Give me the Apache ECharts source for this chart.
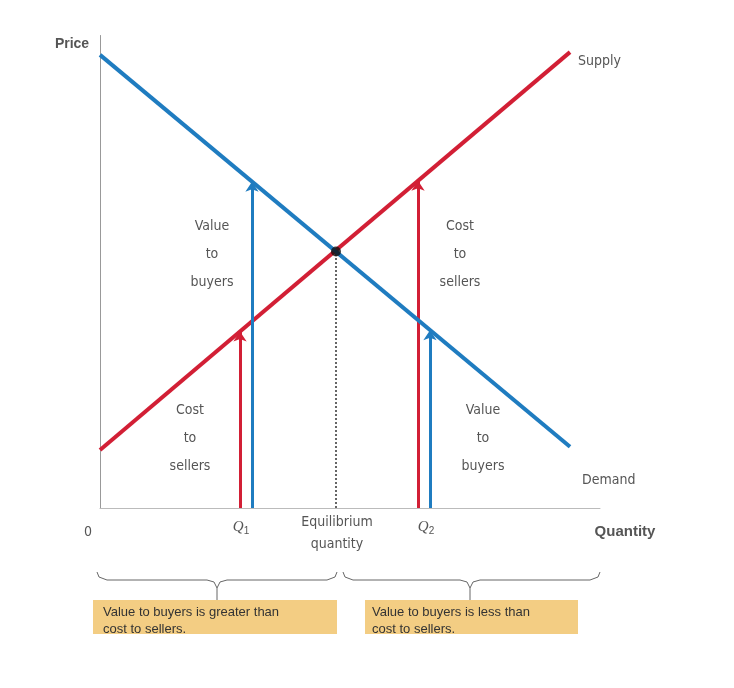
<!DOCTYPE html><html><head><meta charset="utf-8">
<script src="https://cdn.jsdelivr.net/npm/echarts@6/dist/echarts.min.js"></script>
<style>html,body{margin:0;background:#fff}#c{width:734px;height:688px}</style></head><body><div id="c"></div>
<script>
const demandLine=[[0,100.7],[94,13.6]];
const supplyLine=[[0,12.9],[94,101.3]];
const equilibrium=[47.2,57];
const q1Cost=[[28,0],[28,39.2]];
const q1Value=[[30.4,0],[30.4,72.5]];
const q2Cost=[[63.6,0],[63.6,72.7]];
const q2Value=[[66,0],[66,39.5]];
const BLUE='#1f7cc0',RED='#d21f35',TXT='#555';
const ch=echarts.init(document.getElementById('c'));
function brace(x1,x2,cx){const y0=572,y1=580,y2=588;
 return [{type:'polyline',shape:{points:[[x1,y0],[x1+2,y1-3],[x1+10,y1],[cx-10,y1],[cx-3,y1+2],[cx,y2],[cx+3,y1+2],[cx+10,y1],[x2-10,y1],[x2-2,y1-3],[x2,y0]]},style:{stroke:'#666',fill:null,lineWidth:1}},
 {type:'line',shape:{x1:cx,y1:y2,x2:cx,y2:600},style:{stroke:'#666',lineWidth:1}}];}
const t=(x,y,text,extra)=>Object.assign({type:'text',x,y,style:Object.assign({text,fill:TXT,font:'14px "Liberation Sans Narrow", "DejaVu Sans Condensed", sans-serif',align:'center',lineHeight:28},extra||{})});
const arrowLine=(d,c)=>({type:'line',data:[],markLine:{silent:true,symbol:['none','arrow'],symbolSize:10,label:{show:false},lineStyle:{color:c,width:3,type:'solid'},data:[[{coord:d[0]},{coord:d[1]}]]},z:3});
ch.setOption({animation:false,
grid:{left:100,top:35.5,width:500,height:472.5},
xAxis:{type:'value',min:0,max:100,axisLine:{show:true,lineStyle:{color:'#bbb'}},axisTick:{show:false},axisLabel:{show:false},splitLine:{show:false}},
yAxis:{type:'value',min:0,max:105,axisLine:{show:true,lineStyle:{color:'#999'}},axisTick:{show:false},axisLabel:{show:false},splitLine:{show:false}},
series:[
 {type:'line',data:[[equilibrium[0],0],equilibrium],symbol:'none',lineStyle:{color:'#333',width:1.5,type:[2,2]},z:1},
 arrowLine(q1Cost,RED),arrowLine(q1Value,BLUE),arrowLine(q2Cost,RED),arrowLine(q2Value,BLUE),
 {type:'line',data:supplyLine,symbol:'none',lineStyle:{color:RED,width:4},z:4},
 {type:'line',data:demandLine,symbol:'none',lineStyle:{color:BLUE,width:4},z:5},
 {type:'scatter',data:[equilibrium],symbolSize:10,itemStyle:{color:'#111'},z:6}
],
graphic:[
 t(72,30,'Price',{font:'bold 14px "Liberation Sans Narrow", sans-serif',align:'center'}),
 t(578,47,'Supply',{align:'left'}),
 t(582,466,'Demand',{align:'left'}),
 t(88,518,'0'),
 t(625,518,'Quantity',{font:'bold 15px "Liberation Sans Narrow", sans-serif'}),
 {type:'text',x:241,y:518,style:{text:'{i|Q}{s|1}',align:'center',rich:{i:{font:'italic 15px "Liberation Serif", serif',fill:TXT},s:{font:'10px sans-serif',fill:TXT,padding:[8,0,0,0]}}}},
 {type:'text',x:426,y:518,style:{text:'{i|Q}{s|2}',align:'center',rich:{i:{font:'italic 15px "Liberation Serif", serif',fill:TXT},s:{font:'10px sans-serif',fill:TXT,padding:[8,0,0,0]}}}},
 t(337,511,'Equilibrium\nquantity',{lineHeight:22}),
 t(212,212,'Value\nto\nbuyers'),
 t(460,212,'Cost\nto\nsellers'),
 t(190,396,'Cost\nto\nsellers'),
 t(483,396,'Value\nto\nbuyers'),
 ...brace(97,337,217),
 ...brace(343,600,470),
 {type:'rect',shape:{x:93,y:600,width:244,height:34},style:{fill:'#f3cd83'}},
 {type:'rect',shape:{x:365,y:600,width:213,height:34},style:{fill:'#f3cd83'}},
 t(103,604,'Value to buyers is greater than\ncost to sellers.',{align:'left',lineHeight:17,fill:'#333',font:'13px "Liberation Sans Narrow", sans-serif'}),
 t(372,604,'Value to buyers is less than\ncost to sellers.',{align:'left',lineHeight:17,fill:'#333',font:'13px "Liberation Sans Narrow", sans-serif'})
]});
</script></body></html>
